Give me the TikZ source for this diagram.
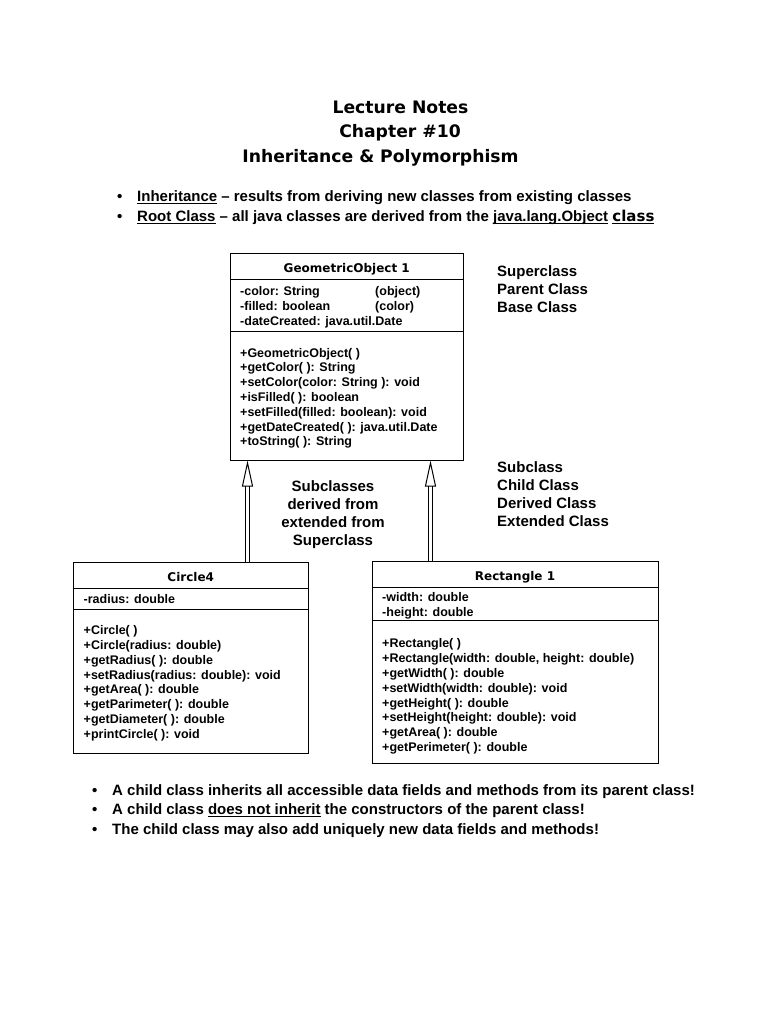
\documentclass[tikz,border=0pt]{standalone}
\usepackage{fontspec}
\setmainfont{Liberation Sans}
\newfontfamily\headfont{DejaVu Sans}
\usepackage{tikz}
\usetikzlibrary{positioning, arrows.meta}

\newcommand{\ulin}[1]{\underline{\smash{#1}}}
\newcommand{\bul}{\makebox[20pt][l]{\textbullet}}

\tikzset{
    classhead/.style={
        draw, line width=1pt, outer sep=0pt, inner sep=0pt, minimum width=#1, minimum height=26pt,
        text height=12.2pt, text depth=0pt, font=\headfont\bfseries\fontsize{12}{14}\selectfont
    },
    classpart/.style={
        draw, line width=1pt, outer sep=0pt, inner sep=0pt, minimum width=#1
    },
    members/.style={
        anchor=north west, align=left, inner sep=0pt, font=\bfseries\fontsize{12.5}{14.8}\selectfont
    },
    bodytext/.style={
        inner sep=0pt, font=\bfseries\fontsize{15}{18}\selectfont
    },
    titletext/.style={
        anchor=base, inner sep=0pt, font=\headfont\bfseries\fontsize{17.2}{20}\selectfont
    },
    inherits/.style={
        double, double distance=2.6pt, line width=0.9pt,
        -{Triangle[open, length=26pt, width=11pt, line width=1pt]}
    }
}

\begin{document}
\begin{tikzpicture}[x=1pt, y=-1pt]
    \useasboundingbox[fill=white] (0,0) rectangle (768,1024);

    % --- Titel ---
    \node[titletext] (title1) at (400.5,113.3) {Lecture Notes};
    \node[titletext] (title2) at (400,137.5) {Chapter \#10};
    \node[titletext] (title3) at (380.5,162.3) {Inheritance \& Polymorphism};

    \node[bodytext, anchor=base west] (intro1) at (117,201.4)
        {\bul\ulin{Inheritance} -- results from deriving new classes from existing classes};
    \node[bodytext, anchor=base west] (intro2) at (117,221.4)
        {\bul\ulin{Root Class} -- all java classes are derived from the \ulin{java.lang.Object} \ulin{{\headfont\fontsize{15}{18}\selectfont class}}};

    % --- GeometricObject ---
    \node[classhead=232.5, anchor=north west] (geoHead) at (230.5,253) {GeometricObject 1};
    \node[classpart=232.5, minimum height=52.5pt, below=0pt of geoHead] (geoAttr) {};
    \node[classpart=232.5, minimum height=129pt, below=0pt of geoAttr] (geoOps) {};
    \node[members, below right=7.4pt and 9.5pt of geoAttr.north west] (geoAttrTxt) {
        \makebox[135pt][l]{-color: String}(object)\\
        \makebox[135pt][l]{-filled: boolean}(color)\\
        -dateCreated: java.util.Date};
    \node[members, below right=16.4pt and 9.5pt of geoOps.north west] (geoOpsTxt) {
        +GeometricObject( )\\
        +getColor( ): String\\
        +setColor(color: String ): void\\
        +isFilled( ): boolean\\
        +setFilled(filled: boolean): void\\
        +getDateCreated( ): java.util.Date\\
        +toString( ): String};

    \node[bodytext, anchor=north west, align=left] (superNames) at (497,265.5)
        {Superclass\\Parent Class\\Base Class};

    % --- Circle ---
    \node[classhead=234.5, anchor=north west] (circHead) at (73.5,562.3) {Circle4};
    \node[classpart=234.5, minimum height=21.6pt, below=0pt of circHead] (circAttr) {};
    \node[classpart=234.5, minimum height=143.5pt, below=0pt of circAttr] (circOps) {};
    \node[members, below right=6pt and 10pt of circAttr.north west] (circAttrTxt) {-radius: double};
    \node[members, below right=15.5pt and 10pt of circOps.north west] (circOpsTxt) {
        +Circle( )\\
        +Circle(radius: double)\\
        +getRadius( ): double\\
        +setRadius(radius: double): void\\
        +getArea( ): double\\
        +getParimeter( ): double\\
        +getDiameter( ): double\\
        +printCircle( ): void};

    % --- Rectangle ---
    \node[classhead=286, anchor=north west] (rectHead) at (372,561) {Rectangle 1};
    \node[classpart=286, minimum height=33.3pt, below=0pt of rectHead] (rectAttr) {};
    \node[classpart=286, minimum height=143.3pt, below=0pt of rectAttr] (rectOps) {};
    \node[members, below right=5.4pt and 10pt of rectAttr.north west] (rectAttrTxt) {
        -width: double\\
        -height: double};
    \node[members, below right=18.4pt and 10pt of rectOps.north west] (rectOpsTxt) {
        +Rectangle( )\\
        +Rectangle(width: double, height: double)\\
        +getWidth( ): double\\
        +setWidth(width: double): void\\
        +getHeight( ): double\\
        +setHeight(height: double): void\\
        +getArea( ): double\\
        +getPerimeter( ): double};

    % --- Vererbung ---
    \coordinate (leftAxis) at (247.5,0);
    \coordinate (rightAxis) at (430.5,0);
    \draw[inherits] (circHead.north -| leftAxis) -- (geoOps.south -| leftAxis);
    \draw[inherits] (rectHead.north -| rightAxis) -- (geoOps.south -| rightAxis);

    \node[bodytext, anchor=north, align=center] (derivedNote) at (333,480)
        {Subclasses\\derived from\\extended from\\Superclass};
    \node[bodytext, anchor=north west, align=left] (subNames) at (497,461.5)
        {Subclass\\Child Class\\Derived Class\\Extended Class};

    % --- Hinweise ---
    \node[bodytext, anchor=base west] (rule1) at (92,795)
        {\bul A child class inherits all accessible data fields and methods from its parent class!};
    \node[bodytext, anchor=base west] (rule2) at (92,814.5)
        {\bul A child class \ulin{does not inherit} the constructors of the parent class!};
    \node[bodytext, anchor=base west] (rule3) at (92,834)
        {\bul The child class may also add uniquely new data fields and methods!};
\end{tikzpicture}
\end{document}
